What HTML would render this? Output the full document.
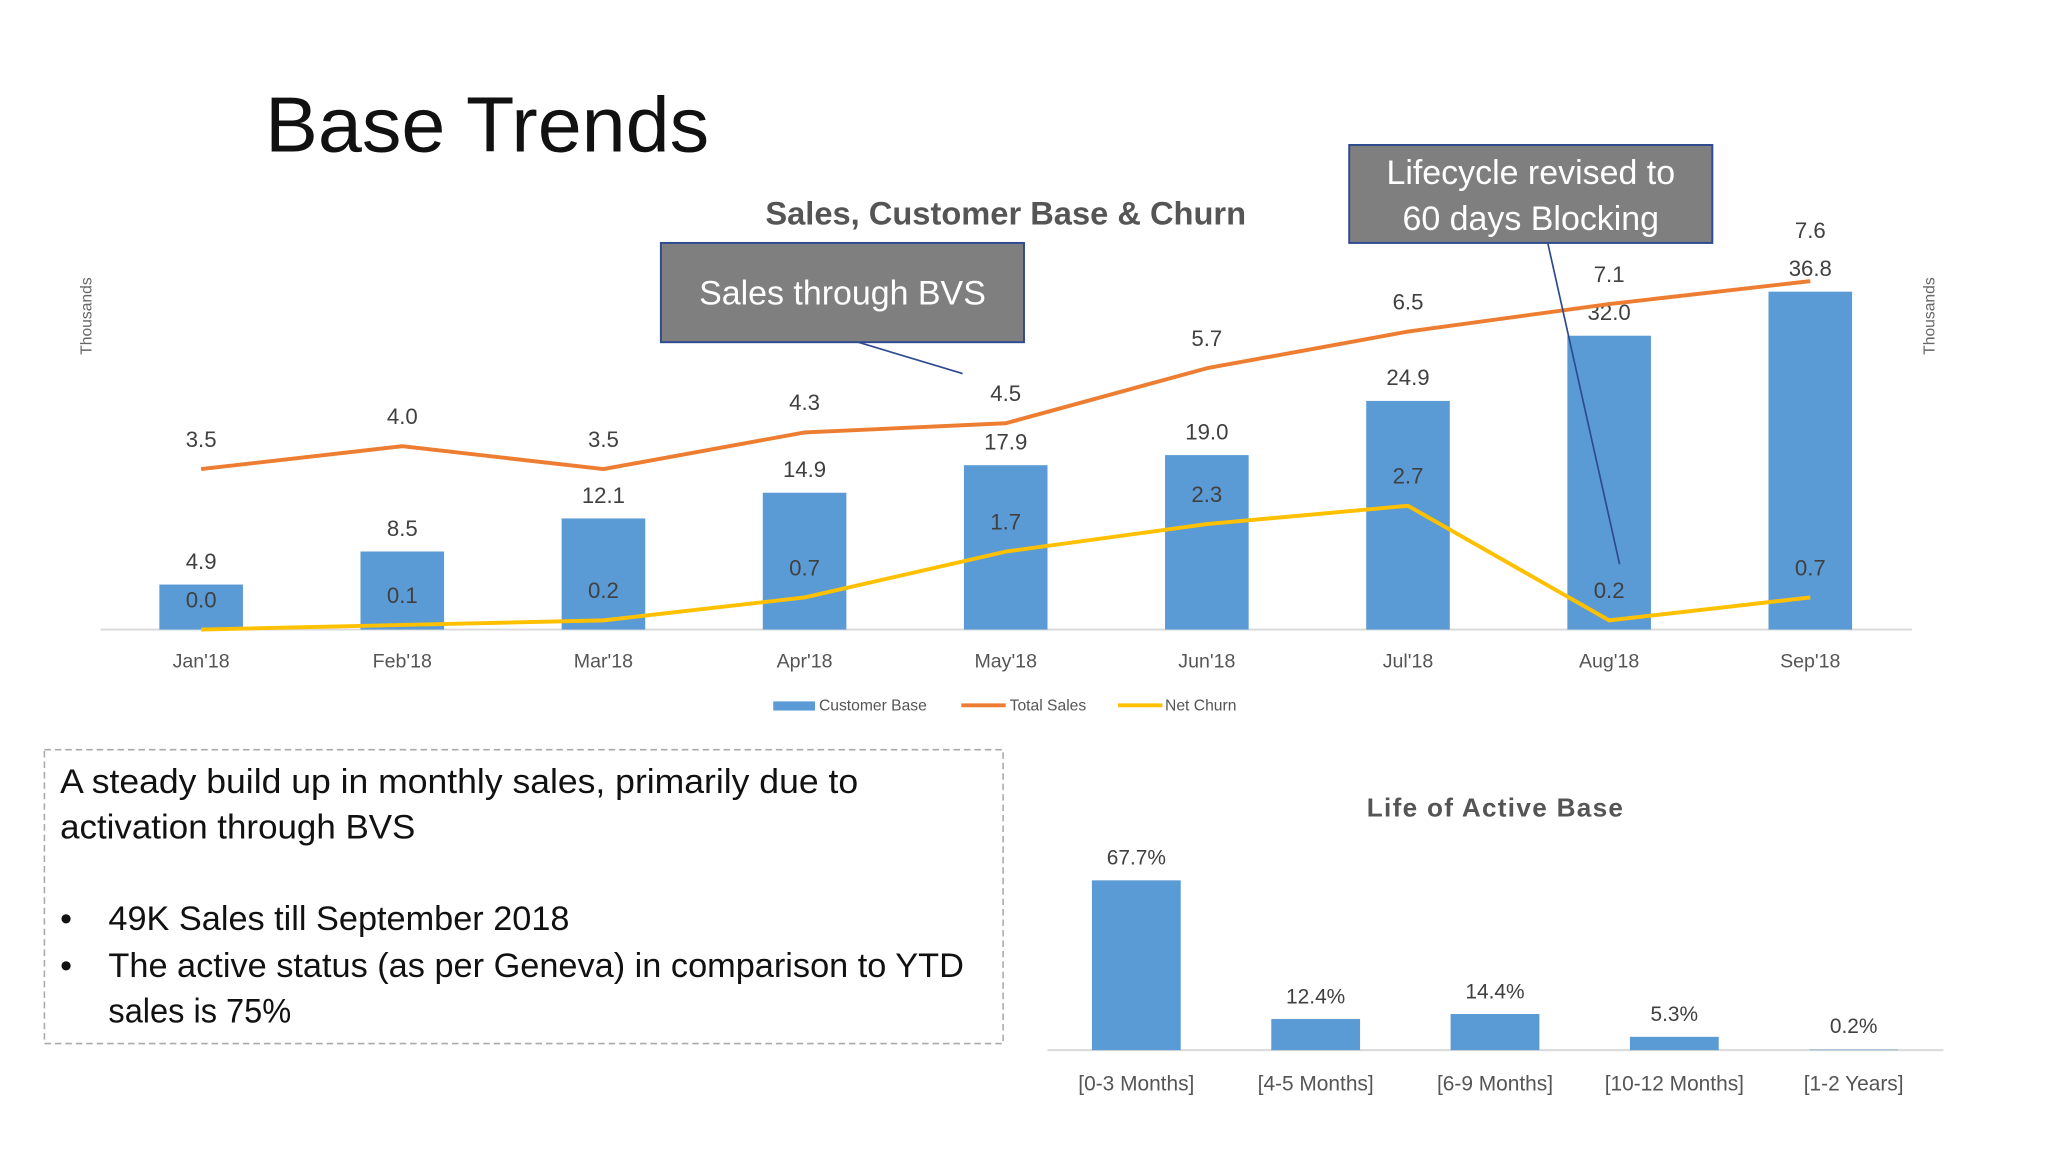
<!DOCTYPE html>
<html><head><meta charset="utf-8"><style>
html,body{margin:0;padding:0;background:#fff;}
svg{display:block;font-family:"Liberation Sans",sans-serif;}
</style></head><body>
<svg id="s" width="2048" height="1152" viewBox="0 0 1568 882" xmlns="http://www.w3.org/2000/svg">
<text x="203" y="116" font-size="60" fill="#111" textLength="340" lengthAdjust="spacingAndGlyphs">Base Trends</text>
<text x="770" y="172" font-size="25" font-weight="bold" fill="#555" text-anchor="middle">Sales, Customer Base &amp; Churn</text>
<text transform="translate(70,242) rotate(-90)" font-size="12" fill="#666" text-anchor="middle">Thousands</text>
<text transform="translate(1481,242) rotate(-90)" font-size="12" fill="#666" text-anchor="middle">Thousands</text>
<line x1="77" y1="482" x2="1464" y2="482" stroke="#d9d9d9" stroke-width="1.5"/>
<g id="main"></g>
<line x1="657" y1="262" x2="737" y2="286" stroke="#2f4b8f" stroke-width="1.3"/>
<rect x="506" y="186" width="278" height="76" fill="#7f7f7f" stroke="#2f4b8f" stroke-width="1.5"/>
<text x="645" y="233" font-size="26" fill="#fff" text-anchor="middle">Sales through BVS</text>
<line x1="1185" y1="186" x2="1240" y2="432" stroke="#2f4b8f" stroke-width="1.3"/>
<rect x="1033" y="111" width="278" height="75" fill="#7f7f7f" stroke="#2f4b8f" stroke-width="1.5"/>
<text x="1172" y="141" font-size="26" fill="#fff" text-anchor="middle">Lifecycle revised to</text>
<text x="1172" y="176" font-size="26" fill="#fff" text-anchor="middle">60 days Blocking</text>
<g font-size="12" fill="#555">
<rect x="592" y="537" width="32" height="7" fill="#5b9bd5"/>
<text x="627" y="544">Customer Base</text>
<line x1="736" y1="540" x2="770" y2="540" stroke="#ed7d31" stroke-width="3"/>
<text x="773" y="544">Total Sales</text>
<line x1="856" y1="540" x2="890" y2="540" stroke="#ffc000" stroke-width="3"/>
<text x="892" y="544">Net Churn</text>
</g>
<rect x="34" y="574" width="734" height="225" fill="#fff" stroke="#aaa" stroke-dasharray="5,3" stroke-width="1.2"/>
<g font-size="26" fill="#111">
<text x="46" y="607" textLength="611" lengthAdjust="spacingAndGlyphs">A steady build up in monthly sales, primarily due to</text>
<text x="46" y="642" textLength="272" lengthAdjust="spacingAndGlyphs">activation through BVS</text>
<text x="46" y="712">•</text><text x="83" y="712" textLength="353" lengthAdjust="spacingAndGlyphs">49K Sales till September 2018</text>
<text x="46" y="748">•</text><text x="83" y="748" textLength="655" lengthAdjust="spacingAndGlyphs">The active status (as per Geneva) in comparison to YTD</text>
<text x="83" y="783" textLength="140" lengthAdjust="spacingAndGlyphs">sales is 75%</text>
</g>
<text x="1145" y="625" font-size="20" font-weight="bold" fill="#555" text-anchor="middle" letter-spacing="1">Life of Active Base</text>
<line x1="802" y1="804" x2="1488" y2="804" stroke="#d9d9d9" stroke-width="1.5"/>
<g id="life"></g>
</svg>
<script>
const months=["Jan'18","Feb'18","Mar'18","Apr'18","May'18","Jun'18","Jul'18","Aug'18","Sep'18"];
const customerBase=[4.9,8.5,12.1,14.9,17.9,19.0,24.9,32.0,36.8];
const totalSales=[3.5,4.0,3.5,4.3,4.5,5.7,6.5,7.1,7.6];
const netChurn=[0.0,0.1,0.2,0.7,1.7,2.3,2.7,0.2,0.7];
const lifeCats=["[0-3 Months]","[4-5 Months]","[6-9 Months]","[10-12 Months]","[1-2 Years]"];
const lifeVals=[67.7,12.4,14.4,5.3,0.2];
const NS="http://www.w3.org/2000/svg";
function mk(t,a,p,txt){const e=document.createElementNS(NS,t);for(const k in a)e.setAttribute(k,a[k]);if(txt!==undefined)e.textContent=txt;p.appendChild(e);return e;}
const g=document.getElementById('main');
const X=i=>154+i*154, base=482, YB=v=>base-v*7.03, YL=v=>base-v*35.1;
months.forEach((m,i)=>{
 const r=mk('rect',{x:X(i)-32,y:YB(customerBase[i]),width:64,height:base-YB(customerBase[i]),fill:'#5b9bd5'},g);
 
 
 const t=mk('text',{x:X(i),y:YB(customerBase[i])-12,'font-size':17,fill:'#404040','text-anchor':'middle'},g,customerBase[i].toFixed(1));
 
 
 const xl=mk('text',{x:X(i),y:511,'font-size':15,fill:'#555','text-anchor':'middle'},g,m);
 
 
});
function line(vals,col,name){
 const p=mk('polyline',{points:vals.map((v,i)=>X(i)+','+YL(v)).join(' '),fill:'none',stroke:col,'stroke-width':3,'stroke-linejoin':'round'},g);
 
 
}
line(totalSales,'#ed7d31','total-sales-line');
line(netChurn,'#ffc000','net-churn-line');
months.forEach((m,i)=>{
 const off=(i===months.length-1)?33:17;
 const a=mk('text',{x:X(i),y:YL(totalSales[i])-off,'font-size':17,fill:'#404040','text-anchor':'middle'},g,totalSales[i].toFixed(1));
 
 
 const b=mk('text',{x:X(i),y:Math.min(YL(netChurn[i])-17,466),'font-size':17,fill:'#404040','text-anchor':'middle'},g,netChurn[i].toFixed(1));
 
 
});
const lg=document.getElementById('life');
const LX=i=>870+i*137.3, lb=804, LY=v=>lb-v*1.92;
lifeCats.forEach((c,i)=>{
 const r=mk('rect',{x:LX(i)-34,y:LY(lifeVals[i]),width:68,height:lb-LY(lifeVals[i]),fill:'#5b9bd5'},lg);
 
 
 const t=mk('text',{x:LX(i),y:Math.min(LY(lifeVals[i])-12,791),'font-size':16,fill:'#404040','text-anchor':'middle'},lg,lifeVals[i].toFixed(1)+'%');
 
 
 const c2=mk('text',{x:LX(i),y:835,'font-size':16,fill:'#555','text-anchor':'middle'},lg,c);
 
 
});
</script>
</body></html>
